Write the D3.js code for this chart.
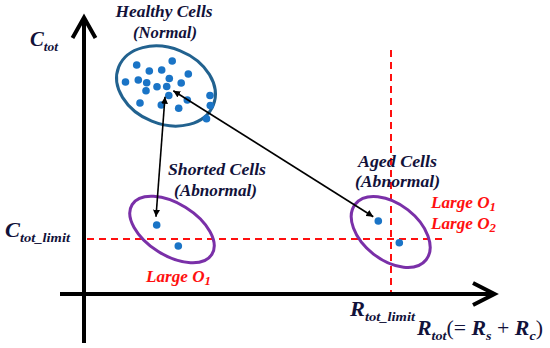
<!DOCTYPE html>
<html>
<head>
<meta charset="utf-8">
<script src="https://cdn.jsdelivr.net/npm/d3@7/dist/d3.min.js"></script>
<style>
  html, body { margin: 0; padding: 0; background: #fff; }
  svg { display: block; }
  text { font-family: "Liberation Serif", "Times New Roman", "DejaVu Serif", serif; font-weight: bold; font-style: italic; }
</style>
</head>
<body>
<div id="chart"></div>
<script>
// ---------- data (chart units: R_tot on x, C_tot on y) ----------
const healthyR = [52.7, 65.3, 77.7, 88.2, 104.3, 41.5, 54.3, 62.7, 62.0, 73.0, 82.7,
                  85.3, 97.2, 84.8, 77.3, 56.0, 94.7, 103.3, 126.0, 126.3, 122.5];
const healthyC = [229, 223, 224, 233, 220, 212, 214, 211.3, 203.3, 207.3, 207.5,
                  215.5, 211, 198.5, 189, 191, 185.7, 194, 198.5, 188.5, 175.3];
const shortedR = [72.7, 94.3];
const shortedC = [69, 48];
const agedR = [294.3, 315.3];
const agedC = [73, 51.3];
const rTotLimit = 307;
const cTotLimit = 55;
// group centres (chart units)
const groupNames = ["healthy", "shorted", "aged"];
const groupCenterR = [82, 88, 306.7];
const groupCenterC = [208, 64.5, 62];
// double arrows: [R, C] endpoints
const arrowsFrom = [[81, 197.3], [89.3, 203.3]];
const arrowsTo = [[72, 77.3], [289.3, 77.3]];

// ---------- layout ----------
const W = 550, H = 348;
const x = d3.scaleLinear().domain([0, 410]).range([84, 494]);
const y = d3.scaleLinear().domain([0, 276]).range([294, 18]);

const svg = d3.select("#chart").append("svg").attr("width", W).attr("height", H);

const defs = svg.append("defs");
["start", "end"].forEach(k => {
  defs.append("marker")
    .attr("id", "ah-" + k)
    .attr("viewBox", "0 0 10 10")
    .attr("refX", 10).attr("refY", 5)
    .attr("markerWidth", 7).attr("markerHeight", 7)
    .attr("markerUnits", "userSpaceOnUse")
    .attr("orient", k === "start" ? "auto-start-reverse" : "auto")
    .append("path").attr("d", "M0,0 L10,5 L0,10 Z").attr("fill", "#000");
});

// threshold dashed lines
const red = "#ff1010";
svg.append("line")
  .attr("x1", x(3)).attr("x2", x(358))
  .attr("y1", y(cTotLimit)).attr("y2", y(cTotLimit))
  .attr("stroke", red).attr("stroke-width", 2).attr("stroke-dasharray", "7,5");
svg.append("line")
  .attr("x1", x(rTotLimit)).attr("x2", x(rTotLimit))
  .attr("y1", y(244)).attr("y2", y(0))
  .attr("stroke", red).attr("stroke-width", 2).attr("stroke-dasharray", "7,5");

// ellipses
const ellStyle = {
  healthy: { rx: 51, ry: 38, rot: 22, color: "#22628f" },
  shorted: { rx: 47, ry: 26, rot: 32, color: "#7a30a8" },
  aged:    { rx: 45, ry: 28, rot: 38, color: "#7a30a8" }
};
groupNames.forEach((g, i) => {
  const s = ellStyle[g];
  const cx = x(groupCenterR[i]), cy = y(groupCenterC[i]);
  svg.append("ellipse")
    .attr("cx", 0).attr("cy", 0).attr("rx", s.rx).attr("ry", s.ry)
    .attr("transform", `translate(${cx},${cy}) rotate(${s.rot})`)
    .attr("fill", "none").attr("stroke", s.color).attr("stroke-width", 3);
});

// dots
const dotColor = "#1a74c6";
function dots(R, C) {
  svg.append("g").selectAll("circle")
    .data(R.map((r, i) => [r, C[i]]))
    .join("circle")
    .attr("cx", d => x(d[0])).attr("cy", d => y(d[1]))
    .attr("r", 3.8).attr("fill", dotColor);
}
dots(healthyR, healthyC);
dots(shortedR, shortedC);
dots(agedR, agedC);

// double-headed arrows
arrowsFrom.forEach((f, i) => {
  const t = arrowsTo[i];
  svg.append("line")
    .attr("x1", x(f[0])).attr("y1", y(f[1]))
    .attr("x2", x(t[0])).attr("y2", y(t[1]))
    .attr("stroke", "#000").attr("stroke-width", 1.6)
    .attr("marker-start", "url(#ah-start)")
    .attr("marker-end", "url(#ah-end)");
});

// axes
svg.append("line")
  .attr("x1", x(0)).attr("x2", x(0)).attr("y1", y(-49)).attr("y2", y(275))
  .attr("stroke", "#000").attr("stroke-width", 4);
svg.append("polyline")
  .attr("points", `${x(-11.5)},${y(256)} ${x(0)},${y(276.5)} ${x(11.5)},${y(256)}`)
  .attr("fill", "none").attr("stroke", "#000").attr("stroke-width", 4)
  .attr("stroke-linejoin", "miter");
svg.append("line")
  .attr("x1", x(-24)).attr("x2", x(409)).attr("y1", y(0)).attr("y2", y(0))
  .attr("stroke", "#000").attr("stroke-width", 4);
svg.append("polyline")
  .attr("points", `${x(389)},${y(11)} ${x(410.5)},${y(0)} ${x(389)},${y(-11)}`)
  .attr("fill", "none").attr("stroke", "#000").attr("stroke-width", 4)
  .attr("stroke-linejoin", "miter");

// ---------- text ----------
const ink = "#12123a";
function label(px, py, lines, opts) {
  const t = svg.append("text")
    .attr("x", px).attr("y", py)
    .attr("text-anchor", opts.anchor || "start")
    .attr("font-size", opts.size)
    .attr("fill", opts.color || ink);
  if (opts.len) t.attr("textLength", opts.len).attr("lengthAdjust", "spacingAndGlyphs");
  lines.forEach(seg => {
    const s = t.append("tspan").text(seg.t);
    if (seg.sub) s.attr("font-size", seg.sub).attr("dy", seg.dy);
    if (seg.up) s.attr("dy", seg.up);
    if (seg.normal) s.attr("font-weight", "normal").attr("font-style", "normal");
  });
  return t;
}

label(164, 17, [{ t: "Healthy Cells" }], { anchor: "middle", size: 16, len: 97 });
label(165, 38, [{ t: "(Normal)" }], { anchor: "middle", size: 16, len: 64 });
label(217, 175, [{ t: "Shorted Cells" }], { anchor: "middle", size: 16, len: 98 });
label(215.5, 196, [{ t: "(Abnormal)" }], { anchor: "middle", size: 16, len: 83 });
label(397.5, 167, [{ t: "Aged Cells" }], { anchor: "middle", size: 16, len: 79 });
label(397.5, 187, [{ t: "(Abnormal)" }], { anchor: "middle", size: 16, len: 85 });

label(431, 208, [{ t: "Large O" }, { t: "1", sub: 12, dy: 3 }], { size: 16, color: red, len: 65 });
label(431, 229, [{ t: "Large O" }, { t: "2", sub: 12, dy: 3 }], { size: 16, color: red, len: 65 });
label(146, 282, [{ t: "Large O" }, { t: "1", sub: 12, dy: 3 }], { size: 16, color: red, len: 65 });

label(30, 46, [{ t: "C" }, { t: "tot", sub: 13, dy: 5 }], { size: 20, len: 28 });
label(5, 237, [{ t: "C" }, { t: "tot_limit", sub: 13, dy: 5 }], { size: 20, len: 65 });
label(350, 316, [{ t: "R" }, { t: "tot_limit", sub: 13, dy: 5 }], { size: 20, len: 65 });
label(417, 335, [
  { t: "R" }, { t: "tot", sub: 13, dy: 5 },
  { t: "(= ", up: -5, normal: true },
  { t: "R" }, { t: "s", sub: 13, dy: 5 },
  { t: " + ", up: -5, normal: true },
  { t: "R" }, { t: "c", sub: 13, dy: 5 },
  { t: ")", up: -5, normal: true }
], { size: 20, len: 126 });
</script>
</body>
</html>
